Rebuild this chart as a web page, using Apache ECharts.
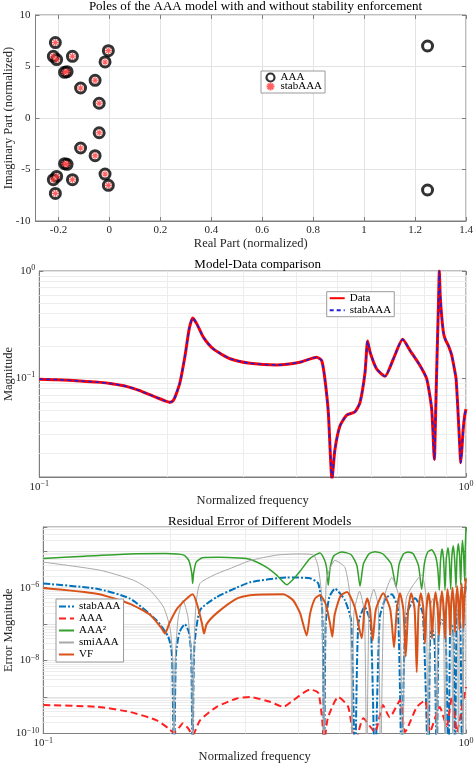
<!DOCTYPE html>
<html>
<head>
<meta charset="utf-8">
<script src="https://cdn.jsdelivr.net/npm/echarts@6/dist/echarts.min.js"></script>
<style>
  html, body { margin: 0; padding: 0; background: #fff; }
  #main { width: 474px; height: 763px; }
</style>
</head>
<body>
<div id="main"></div>
<script>
const FONT = 'Liberation Serif';
const AX = '#7f7f7f';

// poles of the AAA model (normalized)
const aaaRe = [-0.212, -0.220, -0.207, -0.145, -0.004, -0.017, -0.176, -0.166, -0.113, -0.056, -0.040, 1.249,
               -0.212, -0.220, -0.207, -0.145, -0.004, -0.017, -0.176, -0.166, -0.113, -0.056, -0.040, 1.249];
const aaaIm = [7.32, 5.99, 5.67, 5.99, 6.54, 5.44, 4.43, 4.50, 2.91, 3.66, 1.43, 6.99,
               -7.32, -5.99, -5.67, -5.99, -6.54, -5.44, -4.43, -4.50, -2.91, -3.66, -1.43, -6.99];
// poles after stability enforcement (the two unstable ones are out of view)
const stabRe = [-0.212, -0.220, -0.207, -0.145, -0.004, -0.017, -0.176, -0.166, -0.113, -0.056, -0.040,
                -0.212, -0.220, -0.207, -0.145, -0.004, -0.017, -0.176, -0.166, -0.113, -0.056, -0.040];
const stabIm = [7.32, 5.99, 5.67, 5.99, 6.54, 5.44, 4.43, 4.50, 2.91, 3.66, 1.43,
                -7.32, -5.99, -5.67, -5.99, -6.54, -5.44, -4.43, -4.50, -2.91, -3.66, -1.43];

// model-data comparison
const freq = [0.100, 0.110, 0.1245, 0.137, 0.149, 0.160, 0.172, 0.180, 0.188, 0.196, 0.2024, 0.206, 0.209, 0.2137,
  0.2196, 0.2246, 0.2288, 0.2338, 0.2423, 0.2557, 0.280, 0.3118, 0.360, 0.408, 0.4467, 0.459, 0.467, 0.4757, 0.4853,
  0.493, 0.5067, 0.5253, 0.5495, 0.5645, 0.580, 0.588, 0.596, 0.6175, 0.646, 0.676, 0.7106, 0.739, 0.780, 0.809,
  0.831, 0.843, 0.848, 0.855, 0.862, 0.866, 0.870, 0.876, 0.885, 0.893, 0.910, 0.926, 0.940, 0.948, 0.958, 0.966,
  0.972, 0.978, 0.985, 0.993, 1.0];
const magData = [0.098, 0.097, 0.0944, 0.092, 0.0885, 0.084, 0.0767, 0.071, 0.0664, 0.062, 0.0596, 0.062, 0.070, 0.0917,
  0.163, 0.290, 0.365, 0.323, 0.242, 0.188, 0.152, 0.138, 0.133, 0.141, 0.157, 0.146, 0.0985, 0.048, 0.0115,
  0.0217, 0.036, 0.0453, 0.0487, 0.0596, 0.1138, 0.222, 0.175, 0.122, 0.1044, 0.152, 0.2306, 0.182, 0.1315, 0.0985,
  0.0516, 0.0175, 0.040, 0.150, 0.500, 1.0, 0.600, 0.400, 0.270, 0.233, 0.200, 0.163, 0.120, 0.0985, 0.048, 0.025,
  0.0163, 0.022, 0.0335, 0.045, 0.0516];
const magStab = magData.slice();

// residual error of the models, [frequency, error]
const errStab = [[0.100,1.3e-6],[0.1338,9.3e-7],[0.1603,5e-7],[0.1855,1.26e-7],[0.1975,4.5e-8],[0.2015,1.5e-8],
  [0.2038,1e-11],[0.206,1.5e-8],[0.210,6e-8],[0.2163,1e-7],[0.221,6e-8],[0.2238,1.5e-8],[0.2256,1e-11],[0.2275,2e-8],
  [0.2348,2.4e-7],[0.2572,5.5e-7],[0.2868,1e-6],[0.3083,1.4e-6],[0.377,1.9e-6],[0.4275,1.8e-6],[0.4472,1.3e-6],
  [0.457,2.4e-7],[0.4618,1e-11],[0.4655,1e-7],[0.475,5.5e-7],[0.4898,9.3e-7],[0.5171,4.5e-7],[0.535,1.2e-7],
  [0.5463,1e-11],[0.556,1e-7],[0.5756,3e-7],[0.595,1e-7],[0.609,1e-11],[0.625,1.5e-7],[0.645,5e-7],[0.6675,6.6e-7],
  [0.690,2.5e-7],[0.7047,1e-11],[0.720,1.5e-7],[0.7577,5.1e-7],[0.790,2e-7],[0.8144,1e-11],[0.8225,5e-8],
  [0.8333,7e-8],[0.843,3e-8],[0.8525,1e-11],[0.862,8e-8],[0.8774,1.3e-7],[0.895,5e-8],[0.9092,1e-11],[0.917,8e-8],
  [0.926,1e-7],[0.935,4e-8],[0.9419,1e-11],[0.950,1.5e-7],[0.959,2.4e-7],[0.970,8e-8],[0.9787,1e-11],[0.986,3e-7],
  [0.9929,6e-7],[1.0,1.2e-6]];
const errAAA = [[0.100,6e-10],[0.1338,5.4e-10],[0.1603,3.9e-10],[0.1855,2.3e-10],[0.1975,1.4e-10],[0.2038,1.05e-10],
  [0.210,1.5e-10],[0.214,1.9e-10],[0.220,1.4e-10],[0.2256,9e-11],[0.2348,2.3e-10],[0.2572,5.4e-10],[0.2868,9.1e-10],
  [0.3083,1e-9],[0.3438,7.4e-10],[0.3697,5.4e-10],[0.3899,8.1e-10],[0.4275,1.6e-9],[0.4472,1.3e-9],[0.457,2.3e-10],
  [0.4613,5e-11],[0.471,2.6e-10],[0.4987,1e-9],[0.5267,5.3e-10],[0.5463,5e-11],[0.5715,2.6e-10],[0.609,1.1e-10],
  [0.636,6e-10],[0.660,2.8e-10],[0.698,8.1e-10],[0.7174,1.1e-10],[0.7646,5.3e-10],[0.7998,8.1e-10],[0.8213,1.1e-10],
  [0.8668,5.3e-10],[0.900,1.6e-10],[0.926,1e-9],[0.952,1.1e-10],[0.9787,5.3e-10],[1.0,1.9e-9]];
const errAAA2 = [[0.100,6.3e-6],[0.125,7.3e-6],[0.160,8.4e-6],[0.195,8.6e-6],[0.215,7.8e-6],[0.221,5.5e-6],
  [0.2245,2.5e-6],[0.2256,1.3e-6],[0.2268,2.5e-6],[0.230,5e-6],[0.238,6.6e-6],[0.260,6.8e-6],[0.290,6.5e-6],
  [0.3083,6.0e-6],[0.3377,3.6e-6],[0.3566,2.2e-6],[0.3766,1.2e-6],[0.392,1.8e-6],[0.405,2.8e-6],[0.4275,6.3e-6],
  [0.4514,8.9e-6],[0.462,6e-6],[0.468,3.5e-6],[0.4721,1.15e-6],[0.477,3.5e-6],[0.487,7.5e-6],[0.5088,9.5e-6],
  [0.535,8e-6],[0.552,4e-6],[0.5614,1.1e-6],[0.572,4.5e-6],[0.590,8.5e-6],[0.609,9.7e-6],[0.635,8.5e-6],
  [0.665,4.5e-6],[0.683,1.05e-6],[0.695,4.5e-6],[0.712,8.5e-6],[0.7292,9.5e-6],[0.750,8.5e-6],[0.772,4e-6],
  [0.7854,9e-7],[0.797,4.5e-6],[0.812,9.5e-6],[0.8294,1.1e-5],[0.848,7e-6],[0.858,3e-6],[0.8646,8.5e-7],
  [0.870,5e-6],[0.8774,1.15e-5],[0.885,6e-6],[0.8919,8.5e-7],[0.898,6e-6],[0.9066,1.25e-5],[0.913,6e-6],
  [0.9201,9e-7],[0.925,6e-6],[0.9329,1.4e-5],[0.940,6e-6],[0.9469,1e-6],[0.952,7e-6],[0.959,1.6e-5],[0.966,7e-6],
  [0.9716,1.2e-6],[0.976,8e-6],[0.981,2e-5],[0.987,8e-6],[0.9929,1.5e-6],[0.996,1.2e-5],[1.0,4.6e-5]];
const errSmi = [[0.100,5e-6],[0.1362,3e-6],[0.1634,1.6e-6],[0.1788,8.5e-7],[0.1923,3e-7],[0.1994,8e-8],[0.2025,1e-8],
  [0.2038,1e-11],[0.2052,1e-8],[0.2085,1.5e-7],[0.214,4.5e-7],[0.220,1.5e-7],[0.2243,1e-8],[0.2256,1e-11],
  [0.2269,1e-8],[0.2295,3e-7],[0.2348,1.3e-6],[0.2572,2.4e-6],[0.276,3.3e-6],[0.3083,5.5e-6],[0.3566,7.8e-6],
  [0.405,8.4e-6],[0.436,7.8e-6],[0.4472,3.6e-6],[0.456,5e-7],[0.4613,1e-11],[0.467,1.5e-6],[0.4898,5.6e-6],
  [0.5171,3.6e-6],[0.532,5e-7],[0.5374,1e-11],[0.543,2e-7],[0.560,8e-7],[0.575,2e-7],[0.5822,1e-11],[0.590,3e-7],
  [0.605,9e-7],[0.620,3e-7],[0.6283,1e-11],[0.640,5e-7],[0.6675,1.9e-6],[0.695,5e-7],[0.7096,1e-11],[0.722,5e-7],
  [0.7854,2.2e-6],[0.805,5e-7],[0.8131,1e-11],[0.822,3e-7],[0.835,5e-7],[0.846,1e-7],[0.8525,1e-11],[0.860,3e-7],
  [0.872,6e-7],[0.885,1e-7],[0.8919,1e-11],[0.900,3e-7],[0.912,6e-7],[0.925,1e-7],[0.9306,1e-11],[0.937,3e-7],
  [0.948,7e-7],[0.955,1e-7],[0.960,1e-11],[0.966,4e-7],[0.975,9e-7],[0.980,1e-7],[0.9838,1e-11],[0.990,5e-7],
  [1.0,2e-6]];
const errVF = [[0.100,9.8e-7],[0.1338,6.8e-7],[0.1603,3.6e-7],[0.1788,1.8e-7],[0.190,8e-8],[0.194,5.5e-8],
  [0.199,1.1e-7],[0.2075,2.7e-7],[0.2256,6.6e-7],[0.232,3e-7],[0.2375,1e-7],[0.240,5.5e-8],[0.2435,1e-7],
  [0.2572,2e-7],[0.2868,5e-7],[0.3083,6.2e-7],[0.3697,6.6e-7],[0.3899,4.5e-7],[0.405,2e-7],[0.4198,4.9e-8],
  [0.428,2e-7],[0.4393,5e-7],[0.4514,6.2e-7],[0.466,3.5e-7],[0.477,1e-7],[0.4827,4.5e-8],[0.489,1.8e-7],
  [0.505,6e-7],[0.5231,7.6e-7],[0.545,3e-7],[0.5667,4.1e-8],[0.575,2.5e-7],[0.584,5e-7],[0.593,2.5e-7],
  [0.6016,3.6e-8],[0.612,2.5e-7],[0.637,7e-7],[0.662,2.5e-7],[0.6757,2.3e-8],[0.686,2.5e-7],[0.698,7e-7],
  [0.711,2.5e-7],[0.7201,1.3e-8],[0.730,2.5e-7],[0.742,7e-7],[0.756,2.5e-7],[0.7646,4.8e-9],[0.772,2.5e-7],
  [0.782,7e-7],[0.793,2.5e-7],[0.7998,3e-8],[0.806,2.5e-7],[0.815,7e-7],[0.825,2.5e-7],[0.831,4e-8],[0.838,2.5e-7],
  [0.847,7.5e-7],[0.857,2.5e-7],[0.8634,5e-8],[0.869,2.5e-7],[0.877,8e-7],[0.886,2.5e-7],[0.8919,4e-8],
  [0.897,2.5e-7],[0.904,9e-7],[0.912,3e-7],[0.9167,5e-8],[0.922,3e-7],[0.929,1e-6],[0.937,3e-7],[0.9419,6e-8],
  [0.947,3e-7],[0.953,1.1e-6],[0.961,3e-7],[0.9652,7e-8],[0.970,4e-7],[0.976,1.3e-6],[0.983,4e-7],[0.9865,8e-8],
  [0.991,5e-7],[1.0,1.8e-6]];

// axis ranges
const reRange = [-0.29, 1.4];
const imRange = [-10, 10];
const magRange = [0.012, 1];
const errRange = [1e-10, 4.6e-5];
const freqRange = [0.1, 1];

// minor grid positions on the log axes
const minorSteps = [2, 3, 4, 5, 6, 7, 8, 9];
const minorFreq = minorSteps.map(k => k / 10);
const minorMag = minorSteps.map(k => k / 100).concat(minorSteps.map(k => k / 10));
const minorErr = [];
[-10, -9, -8, -7, -6, -5].forEach(d => minorSteps.forEach(k => { if (k * Math.pow(10, d) < errRange[1]) minorErr.push(k * Math.pow(10, d)); }));

const zip = (a, b) => a.map((v, i) => [v, b[i]]);

function powLabel(v, evenOnly) {
  const l = Math.log10(v);
  const n = Math.round(l);
  if (Math.abs(l - n) > 1e-6) return '';
  if (evenOnly && n % 2 !== 0) return '';
  return '{b|10}{s|' + (n < 0 ? '\u2212' + (-n) : n) + '}';
}
const powRich = {
  b: { fontFamily: FONT, fontSize: 11, color: '#262626', lineHeight: 14 },
  s: { fontFamily: FONT, fontSize: 8, color: '#262626', lineHeight: 8, verticalAlign: 'top' }
};

function baseAxis(extra) {
  return Object.assign({
    axisLine: { show: true, onZero: false, lineStyle: { color: AX, width: 1 } },
    axisTick: { show: true, inside: true, length: 4, lineStyle: { color: AX } },
    splitLine: { show: true, lineStyle: { color: '#e3e3e3', width: 1 } },
    nameLocation: 'middle',
    nameMoveOverlap: false,
    nameTextStyle: { fontFamily: FONT, fontSize: 12.5, color: '#262626' },
    axisLabel: { fontFamily: FONT, fontSize: 11, color: '#262626' }
  }, extra);
}

// tick-only axis on the opposite side of the box
function mirrorAxis(extra) {
  return Object.assign({
    axisLine: { show: false, onZero: false },
    axisTick: { show: true, inside: true, length: 4, lineStyle: { color: AX } },
    axisLabel: { show: false },
    splitLine: { show: false }
  }, extra);
}

// faint minor grid, drawn as mark lines between data coordinates
function minorLines(xs, ys, xr, yr) {
  const v = xs.map(x => [{ coord: [x, yr[0]] }, { coord: [x, yr[1]] }]);
  const h = ys.map(y => [{ coord: [xr[0], y] }, { coord: [xr[1], y] }]);
  return {
    silent: true, symbol: 'none', z: 1, animation: false,
    label: { show: false },
    lineStyle: { color: '#ededed', width: 1, type: 'solid' },
    emphasis: { disabled: true },
    data: v.concat(h)
  };
}

const starPath = 'path://M5 0L5 10M0 5L10 5M1.5 1.5L8.5 8.5M1.5 8.5L8.5 1.5';
const titleStyle = { fontFamily: FONT, fontSize: 13, fontWeight: 'normal', color: '#000' };
const legendText = { fontFamily: FONT, fontSize: 11, color: '#000', lineHeight: 11 };
const lineLegendItem = { color: 'rgba(0,0,0,0)', borderColor: 'rgba(0,0,0,0)', borderWidth: 0 };
const gridBase = { show: true, borderColor: AX, borderWidth: 1, containLabel: false, outerBoundsMode: 'none' };

var myChart = echarts.init(document.getElementById('main'), null, { renderer: 'canvas' });
let option = {
  animation: false,
  backgroundColor: '#fff',
  title: [
    { text: 'Poles of the AAA model with and without stability enforcement', left: 250.5, top: -5, textAlign: 'center', textStyle: titleStyle },
    { text: 'Model-Data comparison', left: 252.7, top: 253, textAlign: 'center', textStyle: titleStyle },
    { text: 'Residual Error of Different Models', left: 254.7, top: 510, textAlign: 'center', textStyle: titleStyle }
  ],
  grid: [
    Object.assign({ left: 35.5, top: 15, width: 430.5, height: 206 }, gridBase),
    Object.assign({ left: 39.3, top: 271, width: 426.7, height: 206 }, gridBase),
    Object.assign({ left: 43.3, top: 527, width: 422.7, height: 206.5 }, gridBase)
  ],
  legend: [
    {
      data: [{ name: 'AAA', itemStyle: { borderWidth: 2.2 } }, { name: 'stabAAA' }],
      left: 261, top: 71, orient: 'vertical',
      backgroundColor: '#fff', borderColor: '#9a9a9a', borderWidth: 1, borderRadius: 0,
      padding: [0, 3, 0, 3], itemGap: -4, itemWidth: 10, itemHeight: 8,
      textStyle: { fontFamily: FONT, fontSize: 11, color: '#000', lineHeight: 10 }, formatter: n => n.trim()
    },
    {
      data: ['Data', 'stabAAA '], left: 326.7, top: 291.7, orient: 'vertical',
      backgroundColor: '#fff', borderColor: '#9a9a9a', borderWidth: 1, borderRadius: 0,
      padding: [1, 3, 1, 2], itemGap: 1, itemWidth: 15, itemHeight: 11,
      itemStyle: lineLegendItem,
      textStyle: legendText, formatter: n => n.trim()
    },
    {
      data: ['stabAAA  ', 'AAA ', 'AAA²', 'smiAAA', 'VF'], left: 56, top: 599, orient: 'vertical',
      backgroundColor: '#fff', borderColor: '#9a9a9a', borderWidth: 1, borderRadius: 0,
      padding: [2, 3, 2, 2], itemGap: 1, itemWidth: 15, itemHeight: 11,
      itemStyle: lineLegendItem,
      textStyle: legendText, formatter: n => n.trim()
    }
  ],
  xAxis: [
    baseAxis({
      gridIndex: 0, type: 'value', min: reRange[0], max: reRange[1], splitNumber: 8,
      name: 'Real Part (normalized)', nameGap: 16,
      axisLabel: { fontFamily: FONT, fontSize: 11, color: '#262626', margin: 4, showMinLabel: false,
        formatter: v => (Math.abs(v) < 1e-9 ? '0' : String(+v.toFixed(1))) }
    }),
    baseAxis({
      gridIndex: 1, type: 'log', logBase: 10, min: freqRange[0], max: freqRange[1],
      name: 'Normalized frequency', nameGap: 17,
      axisLabel: { margin: 3, formatter: v => powLabel(v), rich: powRich }
    }),
    baseAxis({
      gridIndex: 2, type: 'log', logBase: 10, min: freqRange[0], max: freqRange[1],
      name: 'Normalized frequency', nameGap: 17,
      axisLabel: { margin: 3, formatter: v => powLabel(v), rich: powRich }
    }),
    mirrorAxis({ gridIndex: 0, position: 'top', type: 'value', min: reRange[0], max: reRange[1], splitNumber: 8 }),
    mirrorAxis({ gridIndex: 1, position: 'top', type: 'log', logBase: 10, min: freqRange[0], max: freqRange[1] }),
    mirrorAxis({ gridIndex: 2, position: 'top', type: 'log', logBase: 10, min: freqRange[0], max: freqRange[1] })
  ],
  yAxis: [
    baseAxis({
      gridIndex: 0, type: 'value', min: imRange[0], max: imRange[1], interval: 5,
      name: 'Imaginary Part (normalized)', nameGap: 20,
      axisLabel: { fontFamily: FONT, fontSize: 11, color: '#262626', margin: 5 }
    }),
    baseAxis({
      gridIndex: 1, type: 'log', logBase: 10, min: magRange[0], max: magRange[1],
      name: 'Magnitude', nameGap: 24,
      axisLabel: { margin: 4, formatter: v => powLabel(v), rich: powRich }
    }),
    baseAxis({
      gridIndex: 2, type: 'log', logBase: 10, min: errRange[0], max: errRange[1],
      name: 'Error Magnitude', nameGap: 28,
      axisLabel: { margin: 4, formatter: v => powLabel(v, true), rich: powRich }
    }),
    mirrorAxis({ gridIndex: 0, position: 'right', type: 'value', min: imRange[0], max: imRange[1], interval: 5 }),
    mirrorAxis({ gridIndex: 1, position: 'right', type: 'log', logBase: 10, min: magRange[0], max: magRange[1] }),
    mirrorAxis({ gridIndex: 2, position: 'right', type: 'log', logBase: 10, min: errRange[0], max: errRange[1] })
  ],
  series: [
    {
      name: 'AAA', type: 'scatter', xAxisIndex: 0, yAxisIndex: 0,
      data: zip(aaaRe, aaaIm), symbol: 'circle', symbolSize: 10,
      itemStyle: { color: 'none', borderColor: '#000', borderWidth: 3 }
    },
    {
      name: 'stabAAA', type: 'scatter', xAxisIndex: 0, yAxisIndex: 0,
      data: zip(stabRe, stabIm), symbol: starPath, symbolSize: 7,
      itemStyle: { color: 'none', borderColor: '#ff3b3b', borderWidth: 1.1 }
    },
    {
      name: 'Data', type: 'line', xAxisIndex: 1, yAxisIndex: 1,
      data: zip(freq, magData), symbol: 'none', smooth: 0.2,
      lineStyle: { color: '#ff0000', width: 3 },
      markLine: minorLines(minorFreq, minorMag, freqRange, magRange)
    },
    {
      name: 'stabAAA ', type: 'line', xAxisIndex: 1, yAxisIndex: 1,
      data: zip(freq, magStab), symbol: 'none', smooth: 0.2,
      lineStyle: { color: '#1f1fd6', width: 1.6, type: [4, 3] }
    },
    {
      name: 'stabAAA  ', type: 'line', xAxisIndex: 2, yAxisIndex: 2,
      data: errStab, symbol: 'none', smooth: 0.2,
      lineStyle: { color: '#0072BD', width: 2, type: [7, 2, 2, 2] },
      markLine: minorLines(minorFreq, minorErr, freqRange, errRange)
    },
    {
      name: 'AAA ', type: 'line', xAxisIndex: 2, yAxisIndex: 2,
      data: errAAA, symbol: 'none', smooth: 0.2,
      lineStyle: { color: '#ff1f1f', width: 2, type: [7, 4] }
    },
    {
      name: 'AAA²', type: 'line', xAxisIndex: 2, yAxisIndex: 2,
      data: errAAA2, symbol: 'none', smooth: 0.2,
      lineStyle: { color: '#33a02c', width: 1.5 }
    },
    {
      name: 'smiAAA', type: 'line', xAxisIndex: 2, yAxisIndex: 2,
      data: errSmi, symbol: 'none', smooth: 0.2,
      lineStyle: { color: '#a8a8a8', width: 1 }
    },
    {
      name: 'VF', type: 'line', xAxisIndex: 2, yAxisIndex: 2,
      data: errVF, symbol: 'none', smooth: 0.2,
      lineStyle: { color: '#D95319', width: 2 }
    }
  ]
};

myChart.setOption(option);
</script>
</body>
</html>
